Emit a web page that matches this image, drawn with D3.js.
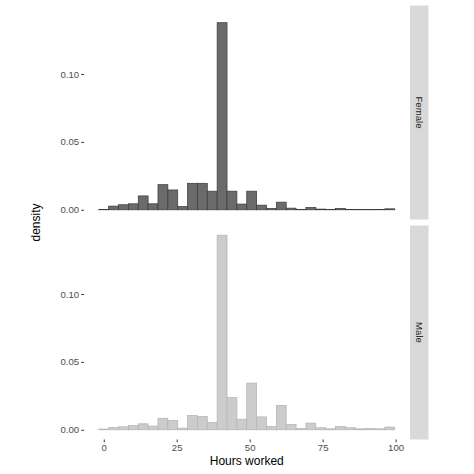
<!DOCTYPE html>
<html>
<head>
<meta charset="utf-8">
<script src="https://cdn.jsdelivr.net/npm/d3@7"></script>
<style>
  html, body { margin: 0; padding: 0; background: #fff; }
  svg { display: block; font-family: "Liberation Sans", Arial, Helvetica, sans-serif; }
</style>
</head>
<body>
<svg id="chart" width="474" height="474"></svg>
<script>
// ---- data ----
const binStart = -1.6897;
const binWidth = 3.3793;
const facets = ["Female", "Male"];
const femaleDensity = [0.0003, 0.0027, 0.0037, 0.0044, 0.0102, 0.0044, 0.0185, 0.0146, 0.0024, 0.0195,
                       0.0195, 0.0137, 0.1378, 0.0137, 0.0042, 0.0137, 0.0034, 0.0010, 0.0056, 0.0012,
                       0.0003, 0.0017, 0.0005, 0.0003, 0.0010, 0.0003, 0.0003, 0.0002, 0.0003, 0.0007];
const maleDensity   = [0.0005, 0.0017, 0.0022, 0.0032, 0.0044, 0.0027, 0.0085, 0.0068, 0.0012, 0.0105,
                       0.0098, 0.0054, 0.1433, 0.0237, 0.0078, 0.0344, 0.0095, 0.0024, 0.0180, 0.0039,
                       0.0010, 0.0049, 0.0015, 0.0007, 0.0024, 0.0015, 0.0007, 0.0010, 0.0007, 0.0020];
const xTicks = [0, 25, 50, 75, 100];
const yTicks = [0.00, 0.05, 0.10];
const xTitle = "Hours worked";
const yTitle = "density";

const seriesValues = [femaleDensity, maleDensity];
const fills = ["#6b6b6b", "#cccccc"];
const strokes = ["#3d3d3d", "#b5b5b5"];

// ---- layout ----
const svg = d3.select("#chart");
const panelLeft = 84, panelRight = 409.5;
const stripW = 18.5;
const panels = [{top: 5.5, bottom: 219.5}, {top: 225.5, bottom: 439.5}];
const tickFont = "9.6px", titleFont = "12px";

const allMax = d3.max(seriesValues.flat());
const xMin = binStart, xMax = binStart + binWidth * femaleDensity.length;
const xPad = (xMax - xMin) * 0.05;
const yPad = allMax * 0.05;

const x = d3.scaleLinear().domain([xMin - xPad, xMax + xPad]).range([panelLeft, panelRight]);

facets.forEach((name, fi) => {
  const p = panels[fi];
  const y = d3.scaleLinear().domain([-yPad, allMax + yPad]).range([p.bottom, p.top]);
  const vals = seriesValues[fi];
  const bins = vals.map((d, i) => ({x0: binStart + i * binWidth, x1: binStart + (i + 1) * binWidth, v: d}));

  const g = svg.append("g");
  g.selectAll("rect.bar").data(bins).enter().append("rect")
    .attr("class", "bar")
    .attr("x", d => x(d.x0))
    .attr("width", d => x(d.x1) - x(d.x0))
    .attr("y", d => y(d.v))
    .attr("height", d => y(0) - y(d.v))
    .attr("fill", fills[fi])
    .attr("stroke", strokes[fi])
    .attr("stroke-width", 0.75);

  // y axis
  const yAxis = d3.axisLeft(y).tickValues(yTicks).tickFormat(d3.format(".2f")).tickSize(2.75).tickPadding(2.2);
  const ya = svg.append("g").attr("transform", `translate(${panelLeft},0)`).call(yAxis);
  ya.select(".domain").remove();
  ya.selectAll(".tick line").attr("stroke", "#333333").attr("stroke-width", 1);
  ya.selectAll(".tick text").attr("fill", "#4d4d4d").style("font-size", tickFont);

  // strip
  svg.append("rect")
    .attr("x", panelRight + 0.5).attr("y", p.top)
    .attr("width", stripW).attr("height", p.bottom - p.top)
    .attr("fill", "#d9d9d9");
  svg.append("text")
    .attr("transform", `translate(${panelRight + 0.5 + stripW / 2},${(p.top + p.bottom) / 2}) rotate(90)`)
    .attr("text-anchor", "middle")
    .attr("dominant-baseline", "central")
    .attr("fill", "#1a1a1a")
    .style("font-size", tickFont)
    .text(name);
});

// x axis
const xAxis = d3.axisBottom(x).tickValues(xTicks).tickFormat(d3.format("d")).tickSize(2.75).tickPadding(2.2);
const xa = svg.append("g").attr("transform", `translate(0,${panels[1].bottom})`).call(xAxis);
xa.select(".domain").remove();
xa.selectAll(".tick line").attr("stroke", "#333333").attr("stroke-width", 1);
xa.selectAll(".tick text").attr("fill", "#4d4d4d").style("font-size", tickFont);

// titles
svg.append("text")
  .attr("x", (panelLeft + panelRight) / 2).attr("y", 465)
  .attr("text-anchor", "middle").attr("fill", "#000").style("font-size", titleFont)
  .text(xTitle);
svg.append("text")
  .attr("transform", `translate(40,${(panels[0].top + panels[1].bottom) / 2}) rotate(-90)`)
  .attr("text-anchor", "middle").attr("fill", "#000").style("font-size", titleFont)
  .text(yTitle);
</script>
</body>
</html>
